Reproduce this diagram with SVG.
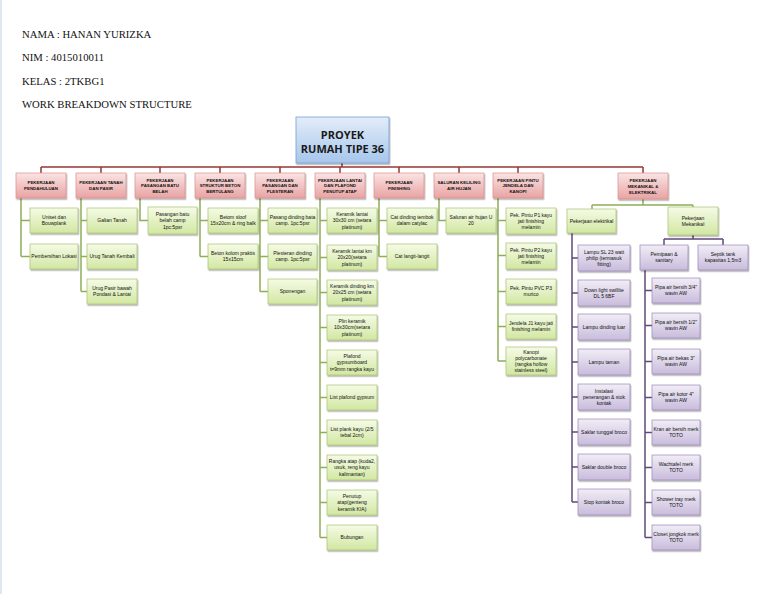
<svg xmlns="http://www.w3.org/2000/svg" width="768" height="594" viewBox="0 0 768 594">
<defs>
<linearGradient id="gPink" x1="0" y1="0" x2="0" y2="1"><stop offset="0" stop-color="#fbe4e4"/><stop offset="1" stop-color="#e8a3a3"/></linearGradient>
<linearGradient id="gGreen" x1="0" y1="0" x2="0" y2="1"><stop offset="0" stop-color="#f5fbe6"/><stop offset="1" stop-color="#d2e7a2"/></linearGradient>
<linearGradient id="gPurple" x1="0" y1="0" x2="0" y2="1"><stop offset="0" stop-color="#f1edf6"/><stop offset="1" stop-color="#c9bcdc"/></linearGradient>
<linearGradient id="gBlue" x1="0" y1="0" x2="0" y2="1"><stop offset="0" stop-color="#e3edf9"/><stop offset="1" stop-color="#a6c6eb"/></linearGradient>
<filter id="sh" x="-20%" y="-20%" width="140%" height="150%"><feDropShadow dx="0.8" dy="1.4" stdDeviation="0.7" flood-color="#000" flood-opacity="0.35"/></filter>
</defs>
<style>
.hdr{font-family:"Liberation Serif",serif;font-size:10.7px;fill:#111}
.root rect{fill:url(#gBlue);stroke:#7b9fd0;stroke-width:0.8;filter:url(#sh)}
.root text{font-family:"Open Sans","Liberation Sans",sans-serif;font-weight:bold;font-size:11px;fill:#1a1a1a;text-anchor:middle}
.l1 rect{fill:url(#gPink);stroke:#d9908e;stroke-width:0.7;filter:url(#sh)}
.l1 text{font-family:"Liberation Sans",sans-serif;font-weight:bold;font-size:4.4px;fill:#111;text-anchor:middle}
.gn rect{fill:url(#gGreen);stroke:#a9c26f;stroke-width:0.7;filter:url(#sh)}
.pu rect{fill:url(#gPurple);stroke:#9a88b8;stroke-width:0.7;filter:url(#sh)}
.gn text,.pu text{font-family:"Liberation Sans",sans-serif;font-size:5px;fill:#111;text-anchor:middle}
.cr{stroke:#953735;stroke-width:1.5;fill:none}
.cg{stroke:#8fae55;stroke-width:1.5;fill:none}
.cp{stroke:#5f497a;stroke-width:1.5;fill:none}
</style>
<rect x="0" y="0" width="768" height="594" fill="#ffffff"/>
<rect x="0" y="0" width="2" height="594" fill="#dfe7f2"/>
<g id="header">
<text class="hdr" x="22" y="37.5">NAMA : HANAN YURIZKA</text>
<text class="hdr" x="22" y="61">NIM : 4015010011</text>
<text class="hdr" x="22" y="84.5">KELAS : 2TKBG1</text>
<text class="hdr" x="22" y="108">WORK BREAKDOWN STRUCTURE</text>
</g>
<g id="connectors">
<path class="cr" d="M342 163V167M41 167H643M41 167V173M101 167V173M160 167V173M220 167V173M280 167V173M340 167V173M399 167V173M459 167V173M518 167V173M643 167V173"/>
<path class="cg" d="M21 198V256.5M21 220.5H30M21 256.5H30"/>
<path class="cg" d="M81 198V291.5M81 220.5H87M81 256.5H87M81 291.5H87"/>
<path class="cg" d="M140 198V220.5H148"/>
<path class="cg" d="M200 198V256.5M200 220.5H208M200 256.5H208"/>
<path class="cg" d="M260 198V291.5M260 220.5H268M260 256.5H268M260 291.5H268"/>
<path class="cg" d="M320 198V537.5M320 220.5H327M320 257.5H327M320 292.5H327M320 327.5H327M320 362.5H327M320 397.5H327M320 432.5H327M320 467.5H327M320 502.5H327M320 537.5H327"/>
<path class="cg" d="M379 198V256.5M379 220.5H387M379 256.5H387"/>
<path class="cg" d="M439 198V220.5H446"/>
<path class="cg" d="M498 198V361M498 220.5H506M498 255.5H506M498 291.5H506M498 326.5H506M498 361H506"/>
<path class="cg" d="M643 199V205M592 205H693M592 205V209M693 205V207"/>
<path class="cp" d="M572 233V502M572 258H578M572 293H578M572 327H578M572 362H578M572 397H578M572 432H578M572 467H578M572 502H578"/>
<path class="cp" d="M693 235V239M664 239H723M664 239V245M723 239V245"/>
<path class="cp" d="M645 270V537.5M645 290.5H652M645 325.5H652M645 361.5H652M645 397.5H652M645 432.5H652M645 467.5H652M645 502.5H652M645 537.5H652"/>
</g>
<g id="root" class="root"><rect x="296" y="117" width="93" height="46"/><text x="342.5" y="139">PROYEK</text><text x="342.5" y="153">RUMAH TIPE 36</text></g>

<g id="n1" class="l1"><rect x="16" y="173" width="50" height="25"/><text x="41" y="184.1">PEKERJAAN</text><text x="41" y="190.1">PENDAHULUAN</text></g>
<g id="n2" class="l1"><rect x="76" y="173" width="50" height="25"/><text x="101" y="184.1">PEKERJAAN TANAH</text><text x="101" y="190.1">DAN PASIR</text></g>
<g id="n3" class="l1"><rect x="135" y="173" width="50" height="25"/><text x="160" y="181.6">PEKERJAAN</text><text x="160" y="187.4">PASANGAN BATU</text><text x="160" y="193.2">BELAH</text></g>
<g id="n4" class="l1"><rect x="195" y="173" width="50" height="25"/><text x="220" y="181.6">PEKERJAAN</text><text x="220" y="187.4">STRUKTUR BETON</text><text x="220" y="193.2">BERTULANG</text></g>
<g id="n5" class="l1"><rect x="255" y="173" width="50" height="25"/><text x="280" y="181.6">PEKERJAAN</text><text x="280" y="187.4">PASANGAN DAN</text><text x="280" y="193.2">PLESTERAN</text></g>
<g id="n6" class="l1"><rect x="315" y="173" width="50" height="25"/><text x="340" y="181.6">PEKERJAAN LANTAI</text><text x="340" y="187.4">DAN PLAFOND</text><text x="340" y="193.2">PENUTUP ATAP</text></g>
<g id="n7" class="l1"><rect x="374" y="173" width="50" height="25"/><text x="399" y="184.1">PEKERJAAN</text><text x="399" y="190.1">FINISHING</text></g>
<g id="n8" class="l1"><rect x="434" y="173" width="50" height="25"/><text x="459" y="184.1">SALURAN KELILING</text><text x="459" y="190.1">AIR HUJAN</text></g>
<g id="n9" class="l1"><rect x="493" y="173" width="50" height="25"/><text x="518" y="181.6">PEKERJAAN PINTU</text><text x="518" y="187.4">JENDELA DAN</text><text x="518" y="193.2">KANOPI</text></g>
<g id="n10" class="l1"><rect x="618" y="173" width="50" height="26"/><text x="643" y="182.1">PEKERJAAN</text><text x="643" y="187.9">MEKANIKAL &amp;</text><text x="643" y="193.7">ELEKTRIKAL</text></g>

<g id="c1a" class="gn"><rect x="30" y="208" width="48" height="25"/><text x="54" y="219.2">Uniset dan</text><text x="54" y="225.4">Bouwplank</text></g>
<g id="c1b" class="gn"><rect x="30" y="244" width="48" height="25"/><text x="54" y="258.3">Pembersihan Lokasi</text></g>

<g id="c2a" class="gn"><rect x="87" y="208" width="50" height="25"/><text x="112" y="222.3">Galian Tanah</text></g>
<g id="c2b" class="gn"><rect x="87" y="244" width="50" height="25"/><text x="112" y="258.3">Urug Tanah Kembali</text></g>
<g id="c2c" class="gn"><rect x="87" y="279" width="50" height="25"/><text x="112" y="290.2">Urug Pasir bawah</text><text x="112" y="296.4">Pondasi &amp; Lantai</text></g>

<g id="c3a" class="gn"><rect x="148" y="207" width="49" height="27"/><text x="172.5" y="216.1">Pasangan batu</text><text x="172.5" y="222.3">belah camp</text><text x="172.5" y="228.5">1pc:5psr</text></g>

<g id="c4a" class="gn"><rect x="208" y="208" width="50" height="25"/><text x="233" y="219.2">Betom sloof</text><text x="233" y="225.4">15x20cm &amp; ring balk</text></g>
<g id="c4b" class="gn"><rect x="208" y="244" width="50" height="25"/><text x="233" y="255.2">Beton kolom praktis</text><text x="233" y="261.4">15x15cm</text></g>

<g id="c5a" class="gn"><rect x="268" y="208" width="49" height="25"/><text x="292.5" y="219.2">Pasang dinding bata</text><text x="292.5" y="225.4">camp.  1pc:5psr</text></g>
<g id="c5b" class="gn"><rect x="268" y="244" width="49" height="25"/><text x="292.5" y="255.2">Plesteran dinding</text><text x="292.5" y="261.4">camp.  1pc:5psr</text></g>
<g id="c5c" class="gn"><rect x="268" y="279" width="49" height="25"/><text x="292.5" y="293.3">Sponengan</text></g>

<g id="c6a" class="gn"><rect x="327" y="208" width="50" height="25"/><text x="352" y="216.1">Keramik lantai</text><text x="352" y="222.3">30x30 cm (setara</text><text x="352" y="228.5">platinum)</text></g>
<g id="c6b" class="gn"><rect x="327" y="245" width="50" height="25"/><text x="352" y="253.1">Keramik lantai km</text><text x="352" y="259.3">20x20(setara</text><text x="352" y="265.5">platinum)</text></g>
<g id="c6c" class="gn"><rect x="327" y="280" width="50" height="25"/><text x="352" y="288.1">Keramik dinding km</text><text x="352" y="294.3">20x25 cm (setara</text><text x="352" y="300.5">platinum)</text></g>
<g id="c6d" class="gn"><rect x="327" y="315" width="50" height="25"/><text x="352" y="323.1">Plin keramik</text><text x="352" y="329.3">10x30cm(setara</text><text x="352" y="335.5">platinum)</text></g>
<g id="c6e" class="gn"><rect x="327" y="350" width="50" height="25"/><text x="352" y="358.1">Plafond</text><text x="352" y="364.3">gypsumboard</text><text x="352" y="370.5">t=9mm rangka kayu</text></g>
<g id="c6f" class="gn"><rect x="327" y="385" width="50" height="25"/><text x="352" y="399.3">List plafond gypsum</text></g>
<g id="c6g" class="gn"><rect x="327" y="420" width="50" height="25"/><text x="352" y="431.2">List plank kayu (2/5</text><text x="352" y="437.4">tebal 2cm)</text></g>
<g id="c6h" class="gn"><rect x="327" y="455" width="50" height="25"/><text x="352" y="463.1">Rangka atap (kuda2,</text><text x="352" y="469.3">usuk, reng kayu</text><text x="352" y="475.5">kalimantan)</text></g>
<g id="c6i" class="gn"><rect x="327" y="490" width="50" height="25"/><text x="352" y="498.1">Penutup</text><text x="352" y="504.3">atap(genteng</text><text x="352" y="510.5">keramik KIA)</text></g>
<g id="c6j" class="gn"><rect x="327" y="525" width="50" height="25"/><text x="352" y="539.3">Bubungan</text></g>

<g id="c7a" class="gn"><rect x="387" y="208" width="50" height="25"/><text x="412" y="219.2">Cat dinding tembok</text><text x="412" y="225.4">dalam catylac</text></g>
<g id="c7b" class="gn"><rect x="387" y="244" width="50" height="25"/><text x="412" y="258.3">Cat langit-langit</text></g>

<g id="c8a" class="gn"><rect x="446" y="208" width="50" height="25"/><text x="471" y="219.2">Saluran air hujan U</text><text x="471" y="225.4">20</text></g>

<g id="c9a" class="gn"><rect x="506" y="208" width="50" height="26"/><text x="531" y="216.6">Pek. Pintu P1 kayu</text><text x="531" y="222.8">jati finishing</text><text x="531" y="229">melamin</text></g>
<g id="c9b" class="gn"><rect x="506" y="243" width="50" height="26"/><text x="531" y="251.6">Pek. Pintu P2 kayu</text><text x="531" y="257.8">jati finishing</text><text x="531" y="264">melamin</text></g>
<g id="c9c" class="gn"><rect x="506" y="279" width="50" height="25"/><text x="531" y="290.2">Pek. Pintu PVC P3</text><text x="531" y="296.4">murico</text></g>
<g id="c9d" class="gn"><rect x="506" y="314" width="50" height="25"/><text x="531" y="325.2">Jendela J1 kayu jati</text><text x="531" y="331.4">finishing melamin</text></g>
<g id="c9e" class="gn"><rect x="506" y="347" width="50" height="28"/><text x="531" y="354.1">Kanopi</text><text x="531" y="359.9">polycarbonate</text><text x="531" y="365.7">(rangka hollow</text><text x="531" y="371.5">stainless steel)</text></g>

<g id="el" class="gn"><rect x="567" y="209" width="49" height="24"/><text x="591.5" y="222.8">Pekerjaan elektrikal</text></g>
<g id="el1" class="pu"><rect x="578" y="245" width="52" height="26"/><text x="604" y="253.6">Lampu SL 23 watt</text><text x="604" y="259.8">philip (termasuk</text><text x="604" y="266">fitting)</text></g>
<g id="el2" class="pu"><rect x="578" y="280" width="52" height="26"/><text x="604" y="291.7">Down light swillite</text><text x="604" y="297.9">DL 5 6BF</text></g>
<g id="el3" class="pu"><rect x="578" y="314" width="52" height="26"/><text x="604" y="328.8">Lampu dinding luar</text></g>
<g id="el4" class="pu"><rect x="578" y="349" width="52" height="26"/><text x="604" y="363.8">Lampu  taman</text></g>
<g id="el5" class="pu"><rect x="578" y="384" width="52" height="26"/><text x="604" y="392.6">Instalasi</text><text x="604" y="398.8">penerangan &amp; stok</text><text x="604" y="405">kontak</text></g>
<g id="el6" class="pu"><rect x="578" y="419" width="52" height="26"/><text x="604" y="433.8">Saklar tunggal broco</text></g>
<g id="el7" class="pu"><rect x="578" y="454" width="52" height="26"/><text x="604" y="468.8">Saklar double broco</text></g>
<g id="el8" class="pu"><rect x="578" y="489" width="52" height="26"/><text x="604" y="503.8">Stop kontak broco</text></g>

<g id="me" class="gn"><rect x="668" y="207" width="50" height="28"/><text x="693" y="219.7">Pekerjaan</text><text x="693" y="225.9">Mekanikal</text></g>
<g id="me1" class="pu"><rect x="640" y="245" width="48" height="25"/><text x="664" y="256.2">Pemipaan &amp;</text><text x="664" y="262.4">sanitary</text></g>
<g id="me2" class="pu"><rect x="698" y="245" width="50" height="25"/><text x="723" y="256.2">Septik tank</text><text x="723" y="262.4">kapasitas  1,5m3</text></g>
<g id="p1" class="pu"><rect x="652" y="278" width="48" height="25"/><text x="676" y="289.2">Pipa air bersih 3/4"</text><text x="676" y="295.4">wavin AW</text></g>
<g id="p2" class="pu"><rect x="652" y="313" width="48" height="25"/><text x="676" y="324.2">Pipa air bersih 1/2"</text><text x="676" y="330.4">wavin AW</text></g>
<g id="p3" class="pu"><rect x="652" y="349" width="48" height="25"/><text x="676" y="360.2">Pipa air bekas 3"</text><text x="676" y="366.4">wavin AW</text></g>
<g id="p4" class="pu"><rect x="652" y="385" width="48" height="25"/><text x="676" y="396.2">Pipa air kotor 4"</text><text x="676" y="402.4">wavin AW</text></g>
<g id="p5" class="pu"><rect x="652" y="420" width="48" height="25"/><text x="676" y="431.2">Kran air bersih merk</text><text x="676" y="437.4">TOTO</text></g>
<g id="p6" class="pu"><rect x="652" y="455" width="48" height="25"/><text x="676" y="466.2">Wachtafel merk</text><text x="676" y="472.4">TOTO</text></g>
<g id="p7" class="pu"><rect x="652" y="490" width="48" height="25"/><text x="676" y="501.2">Shower tray merk</text><text x="676" y="507.4">TOTO</text></g>
<g id="p8" class="pu"><rect x="652" y="525" width="48" height="25"/><text x="676" y="536.2">Closet jongkok merk</text><text x="676" y="542.4">TOTO</text></g>
</svg>
